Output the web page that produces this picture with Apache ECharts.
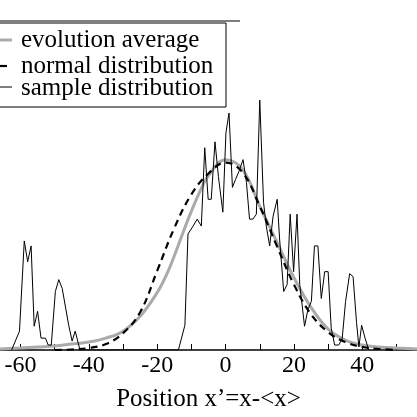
<!DOCTYPE html>
<html>
<head>
<meta charset="utf-8">
<script src="https://cdn.jsdelivr.net/npm/echarts@6/dist/echarts.min.js"></script>
<style>html,body{margin:0;padding:0;background:#fff}#main{width:417px;height:417px}</style>
</head>
<body>
<div id="main"></div>
<script>
// values (y in arbitrary units, baseline 0)
var sampleX = [-62.6,-60.3,-58.9,-57.9,-56.9,-56,-55,-54,-52.7,-51.9,-51,-49.8,-48.8,-47.8,-45.9,-44.9,-44,-42.6,
    -13.8,-11.9,-11,-9.5,-8.3,-7.1,-6.1,-5.1,-4.2,-3.1,-2.1,-0.8,0.1,1.0,2.0,2.9,3.9,5.1,6.1,7.0,8.0,9.0,10.0,11.1,11.9,12.9,13.9,15.1,15.8,
    17.0,18.0,18.9,19.9,20.9,21.7,23.1,24.1,25.1,26.0,27.0,28.0,29.0,30.0,30.9,31.9,33.1,34.1,35.1,36.3,37.3,38.3,39.0,39.8,40.8,41.9];
var sampleY = [0,19,110,89,105,24,39,12,12,5,5,59,71,62,25,9,19,0,
    0,25,117,125,132,125,204,152,152,210,175,139,219,239,164,172,180,192,169,132,132,137,252,149,125,105,135,152,112,
    59,66,137,79,137,66,24,41,49,105,105,52,79,79,22,5,5,11,49,77,74,28,3,25,12,0];
var avgX = [-66,-60,-55,-50,-45,-40,-35,-30,-25,-20,-17,-15,-12.5,-10,-7.5,-5,0,5,10,15,20,25,30,35,40,45,50,56];
var avgY = [1,2,3,4,6,8,12,19,34,58,78,95,118,140,160,176,192,182,145,109,73,43,21,10,5,3,2,1];
var normX = [-50,-45,-40,-35,-30,-25,-20,-15,-10,-5,0,5,10,15,20,25,30,35,40,45,50];
var normY = [0,0.5,2,6,17,38,80,123,157,178,189,179,145,105,66,36,18,8,3,1,0];
var tickVals = [-60,-50,-40,-30,-20,-10,0,10,20,30,40,50];
var labelVals = [-60,-40,-20,0,20,40];

function pairs(xs, ys) {
    var out = [];
    for (var i = 0; i < xs.length; i++) out.push([xs[i], ys[i]]);
    return out;
}
var serif = '"Liberation Serif", "DejaVu Serif", serif';

var chart = echarts.init(document.getElementById('main'));
chart.setOption({
    animation: false,
    grid: {left: 0, right: 0, top: 0, bottom: 64},
    xAxis: {
        type: 'value', min: -66, max: 56,
        axisLine: {lineStyle: {color: '#000', width: 1.5}},
        axisTick: {inside: true, length: 6, customValues: tickVals, lineStyle: {color: '#000'}},
        axisLabel: {customValues: labelVals, color: '#000', fontFamily: serif, fontSize: 24, margin: 4},
        splitLine: {show: false},
        name: 'Position x\u2019=x-<x>', nameLocation: 'middle', nameGap: 37,
        nameTextStyle: {color: '#000', fontFamily: serif, fontSize: 25}
    },
    yAxis: {type: 'value', min: 0, max: 353, show: false},
    series: [
        {name: 'evolution average', type: 'line', data: pairs(avgX, avgY), smooth: 0.4, showSymbol: false,
            lineStyle: {color: '#aaaaaa', width: 3}},
        {name: 'normal distribution', type: 'line', data: pairs(normX, normY), smooth: 0.4, showSymbol: false,
            lineStyle: {color: '#000', width: 2.2, type: [7, 5]}},
        {name: 'sample distribution', type: 'line', data: pairs(sampleX, sampleY), showSymbol: false,
            lineStyle: {color: '#000', width: 1}}
    ],
    graphic: [
        {type: 'line', shape: {x1: 0, y1: 21, x2: 240, y2: 21}, style: {stroke: '#000', lineWidth: 1}},
        {type: 'rect', shape: {x: -2, y: 23, width: 228, height: 84}, style: {fill: '#fff', stroke: '#000', lineWidth: 1}},
        {type: 'line', shape: {x1: 0, y1: 40, x2: 12, y2: 40}, style: {stroke: '#aaa', lineWidth: 3}},
        {type: 'line', shape: {x1: 0, y1: 66, x2: 12, y2: 66}, style: {stroke: '#000', lineWidth: 2.2, lineDash: [7, 5]}},
        {type: 'line', shape: {x1: 0, y1: 87, x2: 12, y2: 87}, style: {stroke: '#000', lineWidth: 1}},
        {type: 'text', x: 21, y: 40, style: {text: 'evolution average', font: '25px ' + serif, fill: '#000', verticalAlign: 'middle'}},
        {type: 'text', x: 21, y: 66, style: {text: 'normal distribution', font: '25px ' + serif, fill: '#000', verticalAlign: 'middle'}},
        {type: 'text', x: 21, y: 88, style: {text: 'sample distribution', font: '25px ' + serif, fill: '#000', verticalAlign: 'middle'}}
    ]
});
</script>
</body>
</html>
